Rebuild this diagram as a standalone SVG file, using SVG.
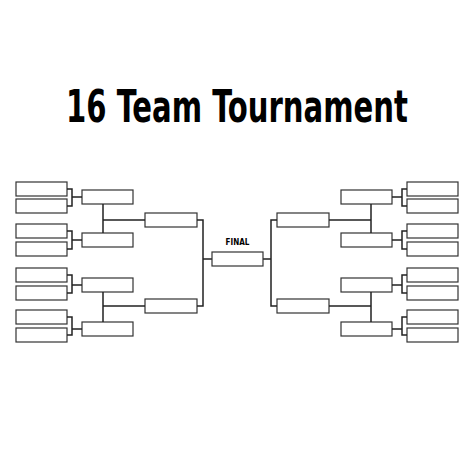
<svg xmlns="http://www.w3.org/2000/svg" width="474" height="474" viewBox="0 0 474 474">
<style>
.b{fill:#fff;stroke:#333;stroke-width:1.2}
.c{fill:none;stroke:#222;stroke-width:1.5}
</style>
<rect width="474" height="474" fill="#fff"/>
<text x="237" y="122" text-anchor="middle" font-family="DejaVu Sans Condensed, Liberation Sans Narrow, sans-serif" font-weight="bold" font-size="44" textLength="342" lengthAdjust="spacingAndGlyphs">16 Team Tournament</text>
<defs>
<g id="half">
<g id="r1">
<rect class="b" x="16" y="182" width="51" height="14"/><rect class="b" x="16" y="199" width="51" height="14"/>
<rect class="b" x="16" y="224" width="51" height="14"/><rect class="b" x="16" y="242" width="51" height="14"/>
<rect class="b" x="16" y="268" width="51" height="14"/><rect class="b" x="16" y="286" width="51" height="14"/>
<rect class="b" x="16" y="310" width="51" height="14"/><rect class="b" x="16" y="328" width="51" height="14"/>
</g>
<g id="r2">
<rect class="b" x="82" y="190" width="51" height="14"/><rect class="b" x="82" y="233" width="51" height="14"/>
<rect class="b" x="82" y="278" width="51" height="14"/><rect class="b" x="82" y="322" width="51" height="14"/>
</g>
<g id="r3">
<rect class="b" x="145" y="213" width="52" height="14"/><rect class="b" x="145" y="299" width="52" height="14"/>
</g>
<g class="c">
<path d="M67 189H72V206H67M72 197H82M67 231H72V249H67M72 240H82M67 275H72V293H67M72 285H82M67 317H72V335H67M72 329H82"/>
<path d="M103 204V233M103 220H145M103 292V322M103 306H145"/>
<path d="M197 220H203V306H197M203 259H212"/>
</g>
</g>
</defs>
<g id="left"><use href="#half"/></g>
<g id="right"><use href="#half" transform="translate(474,0) scale(-1,1)"/></g>
<g id="final">
<rect class="b" x="212" y="252" width="51" height="14"/>
<text x="237.5" y="245" text-anchor="middle" font-family="DejaVu Sans Condensed, sans-serif" font-weight="bold" font-size="8">FINAL</text>
</g>
</svg>
